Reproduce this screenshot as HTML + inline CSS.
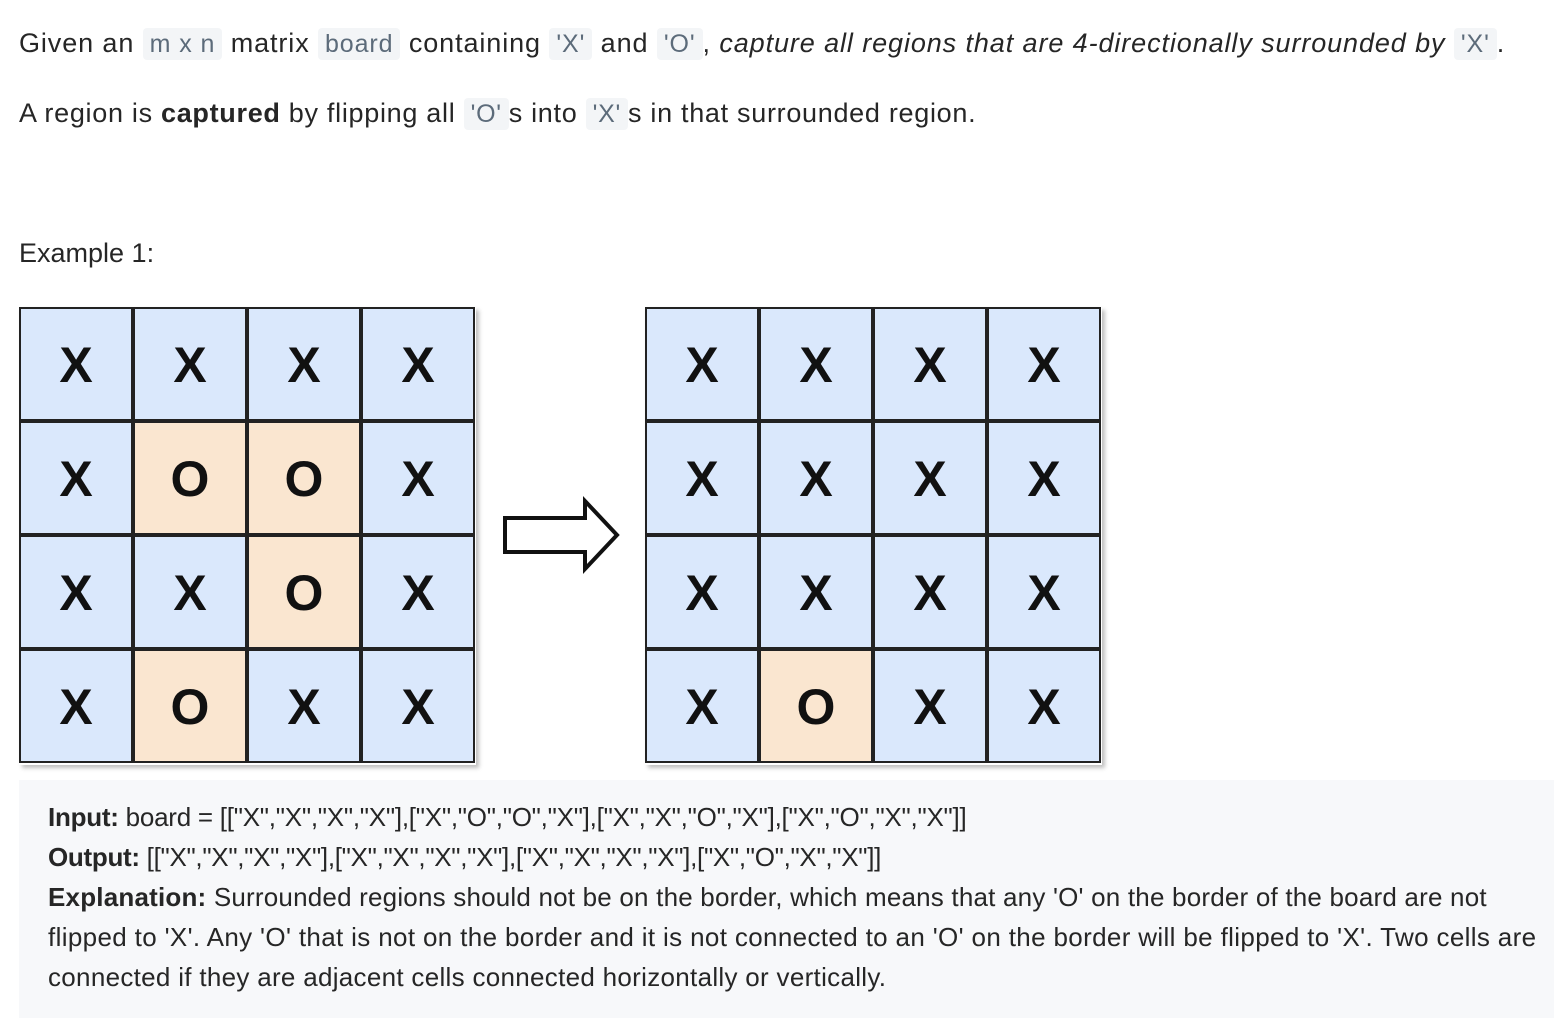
<!DOCTYPE html>
<html><head><meta charset="utf-8"><style>
body{margin:0;width:1554px;height:1018px;background:#fff;font-family:"Liberation Sans",sans-serif;color:#262626;position:relative;overflow:hidden}
.t{position:absolute;left:19px;font-size:27px;white-space:nowrap;letter-spacing:-0.5px}
code{font-family:"Liberation Sans",sans-serif;background:#f3f5f7;color:#5c6b7a;border-radius:4px;padding:2px 7px;font-size:25px}
.grid{position:absolute;top:307px;width:457px;height:458px;box-shadow:3px 3px 4px rgba(0,0,0,.25)}
.c{position:absolute;width:114px;height:114px;border:2px solid #222;box-sizing:border-box;background:#dae8fc;font-size:50px;font-weight:bold;text-align:center;line-height:112px;color:#111}
.o{background:#fae6d0}
.box{position:absolute;left:19px;top:780px;width:1535px;height:238px;background:#f7f8fa}
.e{position:absolute;left:48px;font-size:26px;white-space:nowrap;letter-spacing:-0.5px}
</style></head><body>
<div class="t" style="top:28px;letter-spacing:0.9px">Given an <code>m x n</code> matrix <code>board</code> containing <code>'X'</code> and <code>'O'</code>, <i>capture all regions that are 4-directionally surrounded by</i> <code>'X'</code>.</div>
<div class="t" style="top:98px;letter-spacing:0.7px">A region is <b>captured</b> by flipping all <code>'O'</code>s into <code>'X'</code>s in that surrounded region.</div>
<div class="t" style="top:238px;letter-spacing:0">Example 1:</div>
<div class="grid" style="left:19px" id="g1"></div>
<div class="grid" style="left:645px" id="g2"></div>
<svg style="position:absolute;left:0;top:0" width="1554" height="1018"><path d="M505 518 H585 V501 L617 535 L585 569 V552 H505 Z" fill="#fff" stroke="#111" stroke-width="4" stroke-linejoin="miter"/></svg>
<div class="box"></div>
<div class="e" style="top:802px;letter-spacing:-0.25px"><b>Input:</b> board = [["X","X","X","X"],["X","O","O","X"],["X","X","O","X"],["X","O","X","X"]]</div>
<div class="e" style="top:842px;letter-spacing:-0.3px"><b>Output:</b> [["X","X","X","X"],["X","X","X","X"],["X","X","X","X"],["X","O","X","X"]]</div>
<div class="e" style="top:882px;letter-spacing:0.2px"><b>Explanation:</b> Surrounded regions should not be on the border, which means that any 'O' on the border of the board are not</div>
<div class="e" style="top:922px;letter-spacing:0.35px">flipped to 'X'. Any 'O' that is not on the border and it is not connected to an 'O' on the border will be flipped to 'X'. Two cells are</div>
<div class="e" style="top:962px;letter-spacing:0.3px">connected if they are adjacent cells connected horizontally or vertically.</div>
<script>
function f(id,b){var g=document.getElementById(id),h='';for(var r=0;r<4;r++)for(var c=0;c<4;c++){var v=b[r][c];h+='<div class="c'+(v=='O'?' o':'')+'" style="left:'+(c*114)+'px;top:'+(r*114)+'px">'+v+'</div>';}g.innerHTML=h;}
f('g1',["XXXX","XOOX","XXOX","XOXX"]);f('g2',["XXXX","XXXX","XXXX","XOXX"]);
</script>
</body></html>
